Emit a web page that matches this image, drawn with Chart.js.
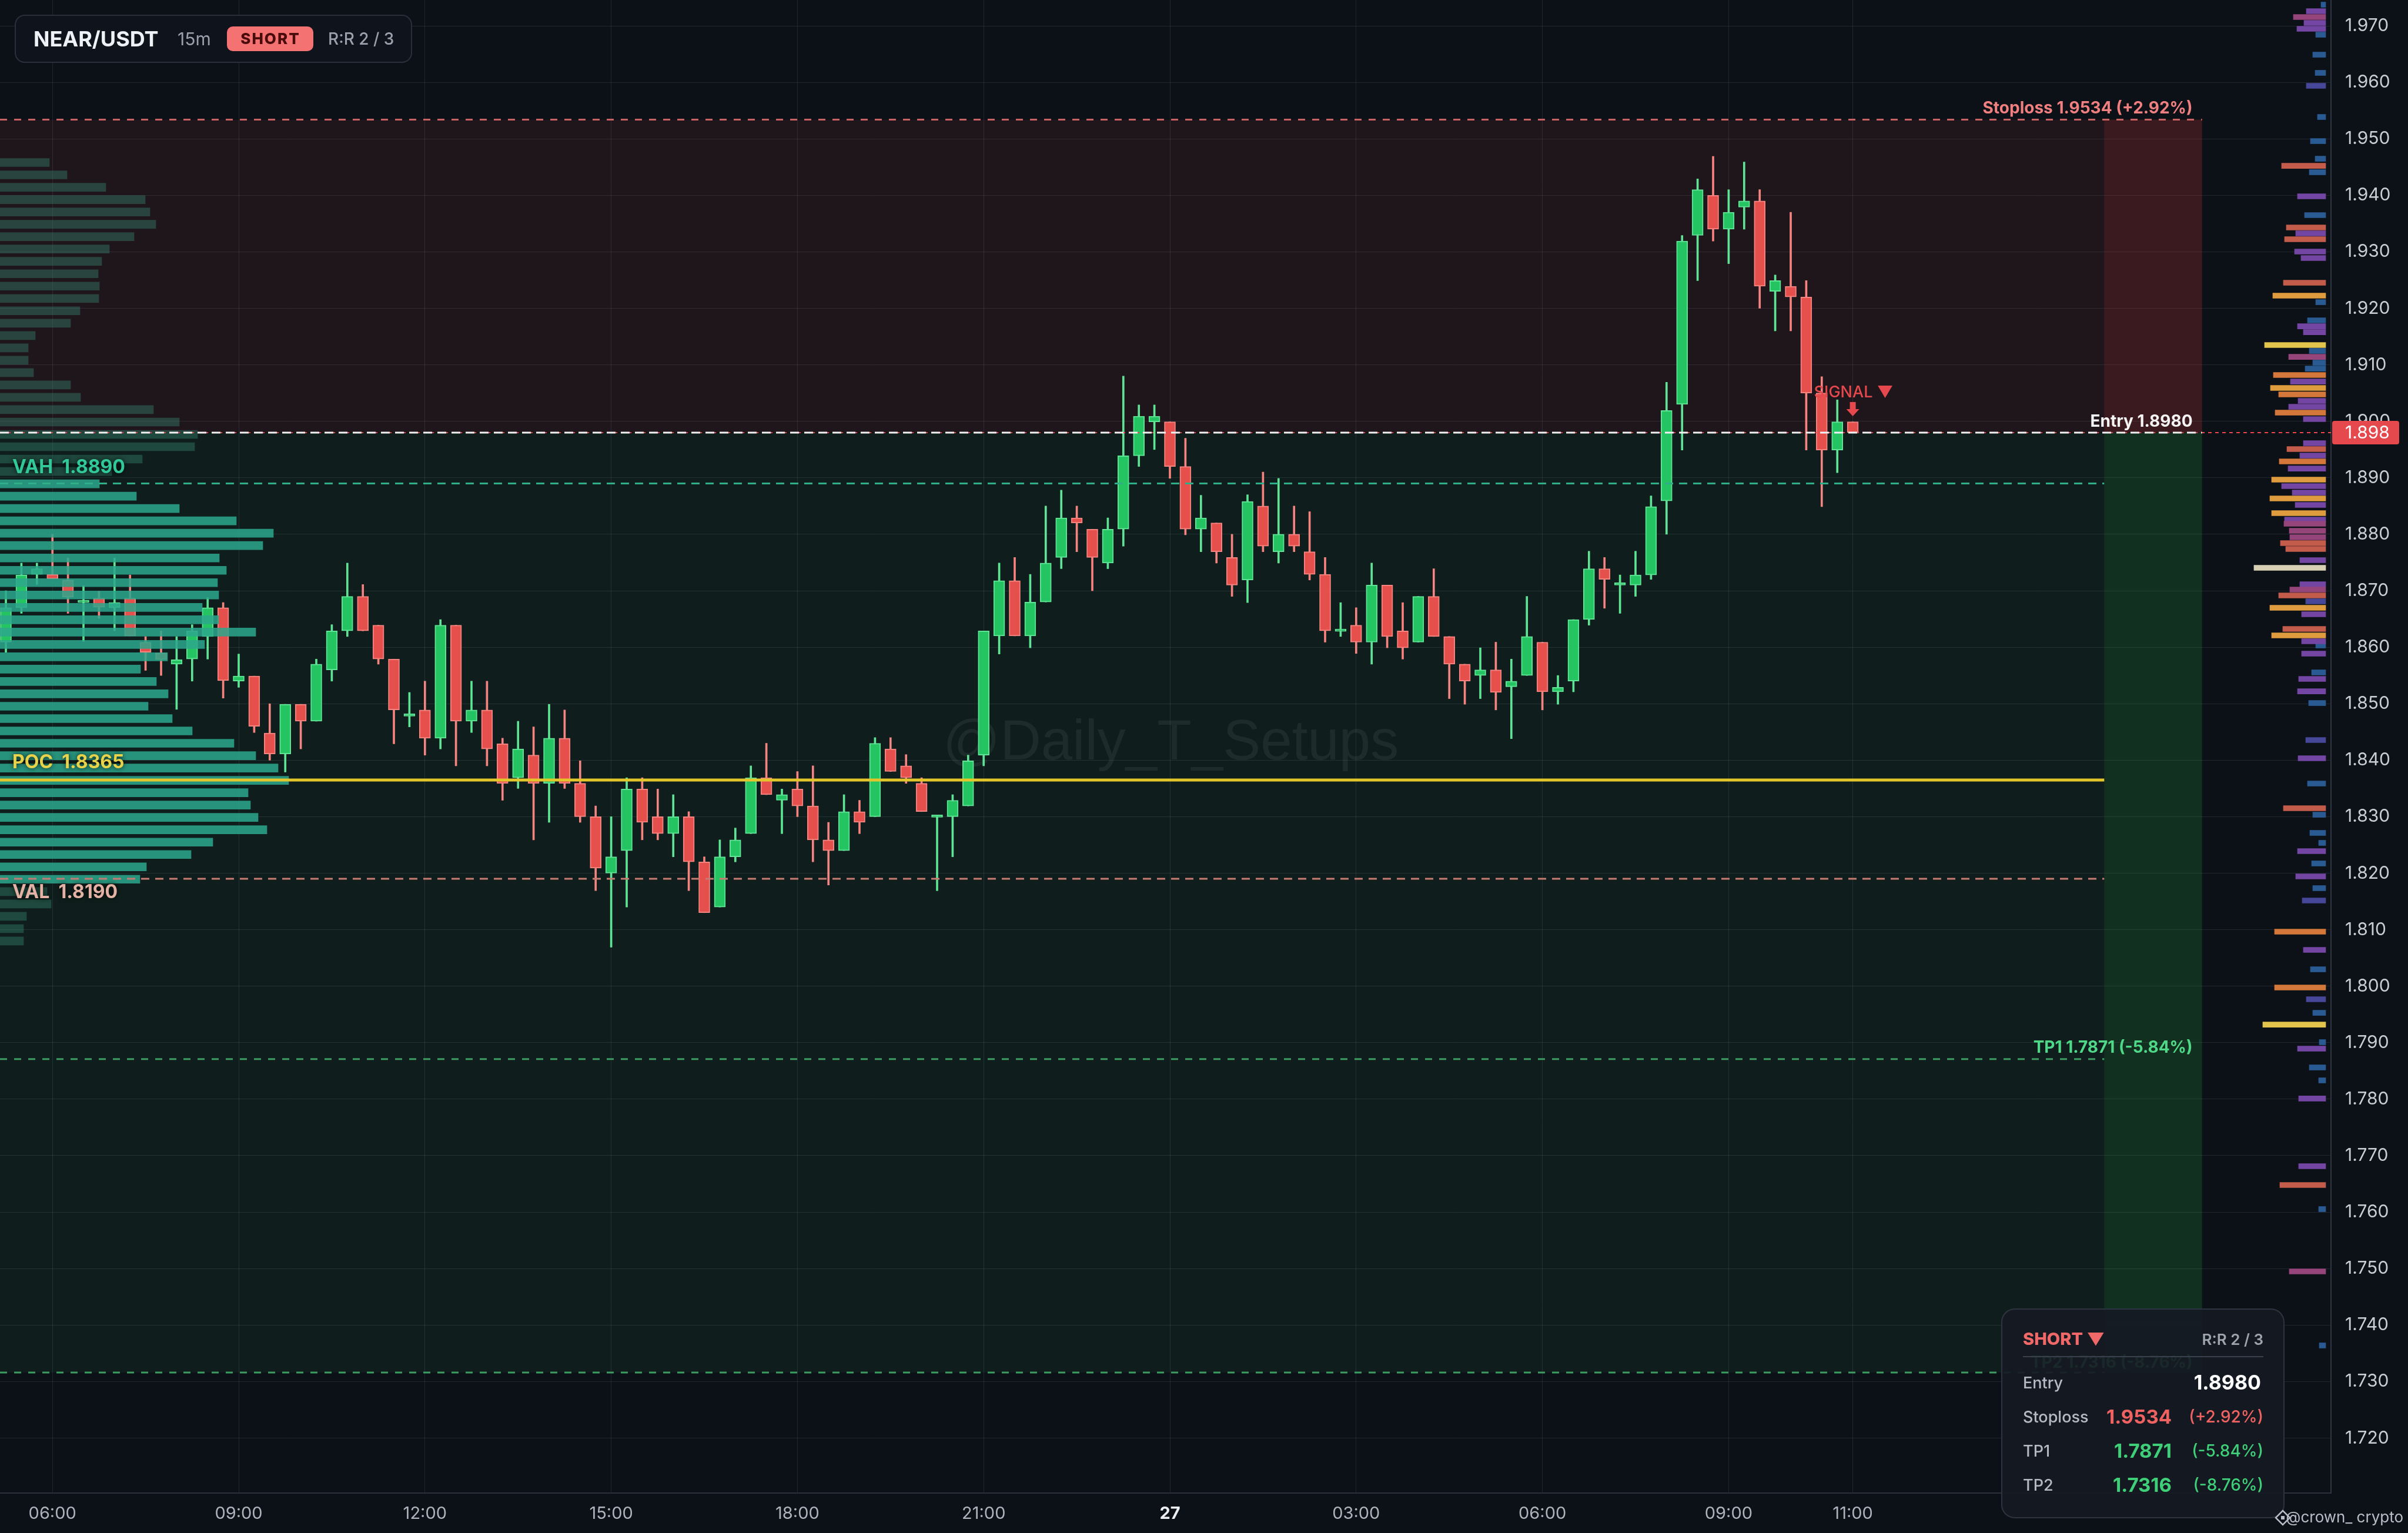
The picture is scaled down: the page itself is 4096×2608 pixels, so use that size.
<!DOCTYPE html>
<html>
<head>
<meta charset="utf-8">
<script src="https://cdn.jsdelivr.net/npm/chart.js@4.4.1/dist/chart.umd.min.js"></script>
<style>
  html, body { margin: 0; padding: 0; background: #0c1017; }
  #wrap { width: 4096px; height: 2608px; }
</style>
</head>
<body>
<div id="wrap"><canvas id="chart" width="4096" height="2608"></canvas></div>
<script>
// ---- time axis (15m candles, index 1 = 05:15) ----
const TICK_INDEX = [4, 16, 28, 40, 52, 64, 76, 88, 100, 112, 120];
const TICK_LABELS = ['06:00', '09:00', '12:00', '15:00', '18:00', '21:00', '27', '03:00', '06:00', '09:00', '11:00'];

// ---- candles ----
const OPEN = [
  1.8609, 1.8670, 1.8729, 1.8729, 1.8719, 1.8679, 1.8687, 1.8670, 1.8687, 1.8609,
  1.8590, 1.8570, 1.8579, 1.8619, 1.8670, 1.8540, 1.8549, 1.8448, 1.8411, 1.8499,
  1.8469, 1.8560, 1.8629, 1.8690, 1.8639, 1.8579, 1.8478, 1.8489, 1.8439, 1.8639,
  1.8469, 1.8489, 1.8429, 1.8369, 1.8409, 1.8359, 1.8439, 1.8359, 1.8300, 1.8200,
  1.8240, 1.8349, 1.8300, 1.8270, 1.8300, 1.8220, 1.8140, 1.8229, 1.8270, 1.8369,
  1.8329, 1.8349, 1.8319, 1.8259, 1.8240, 1.8309, 1.8300, 1.8420, 1.8390, 1.8359,
  1.8299, 1.8300, 1.8319, 1.8409, 1.8620, 1.8718, 1.8620, 1.8680, 1.8759, 1.8829,
  1.8809, 1.8749, 1.8809, 1.8939, 1.8999, 1.8999, 1.8920, 1.8809, 1.8820, 1.8759,
  1.8719, 1.8850, 1.8769, 1.8800, 1.8769, 1.8729, 1.8628, 1.8639, 1.8609, 1.8710,
  1.8629, 1.8609, 1.8690, 1.8619, 1.8570, 1.8550, 1.8560, 1.8530, 1.8550, 1.8609,
  1.8521, 1.8540, 1.8649, 1.8739, 1.8710, 1.8710, 1.8728, 1.8859, 1.9030, 1.9329,
  1.9400, 1.9340, 1.9379, 1.9390, 1.9230, 1.9239, 1.9220, 1.9050, 1.8949, 1.8999
];
const HIGH = [
  1.8700, 1.8749, 1.8749, 1.8800, 1.8758, 1.8709, 1.8699, 1.8758, 1.8728, 1.8619,
  1.8629, 1.8619, 1.8640, 1.8688, 1.8679, 1.8588, 1.8549, 1.8500, 1.8499, 1.8499,
  1.8579, 1.8640, 1.8749, 1.8711, 1.8639, 1.8579, 1.8520, 1.8540, 1.8649, 1.8639,
  1.8540, 1.8540, 1.8439, 1.8469, 1.8459, 1.8499, 1.8489, 1.8399, 1.8319, 1.8300,
  1.8369, 1.8369, 1.8349, 1.8339, 1.8309, 1.8229, 1.8259, 1.8280, 1.8390, 1.8430,
  1.8349, 1.8380, 1.8390, 1.8290, 1.8339, 1.8329, 1.8440, 1.8440, 1.8410, 1.8369,
  1.8303, 1.8339, 1.8409, 1.8629, 1.8749, 1.8759, 1.8729, 1.8850, 1.8878, 1.8850,
  1.8809, 1.8829, 1.9080, 1.9029, 1.9029, 1.8999, 1.8970, 1.8869, 1.8820, 1.8800,
  1.8870, 1.8910, 1.8899, 1.8850, 1.8840, 1.8759, 1.8679, 1.8670, 1.8749, 1.8710,
  1.8679, 1.8690, 1.8739, 1.8619, 1.8570, 1.8599, 1.8609, 1.8579, 1.8690, 1.8609,
  1.8550, 1.8649, 1.8770, 1.8759, 1.8728, 1.8770, 1.8868, 1.9069, 1.9329, 1.9429,
  1.9469, 1.9410, 1.9459, 1.9410, 1.9259, 1.9370, 1.9249, 1.9079, 1.9038, 1.8999
];
const LOW = [
  1.8591, 1.8660, 1.8711, 1.8721, 1.8660, 1.8610, 1.8651, 1.8629, 1.8620, 1.8559,
  1.8550, 1.8490, 1.8540, 1.8579, 1.8510, 1.8529, 1.8449, 1.8400, 1.8379, 1.8420,
  1.8469, 1.8540, 1.8619, 1.8629, 1.8570, 1.8429, 1.8459, 1.8409, 1.8420, 1.8390,
  1.8449, 1.8390, 1.8329, 1.8350, 1.8259, 1.8290, 1.8350, 1.8290, 1.8169, 1.8069,
  1.8140, 1.8259, 1.8259, 1.8229, 1.8169, 1.8130, 1.8140, 1.8220, 1.8270, 1.8339,
  1.8270, 1.8300, 1.8220, 1.8179, 1.8240, 1.8270, 1.8300, 1.8380, 1.8359, 1.8309,
  1.8169, 1.8229, 1.8319, 1.8390, 1.8588, 1.8620, 1.8599, 1.8680, 1.8739, 1.8769,
  1.8700, 1.8739, 1.8779, 1.8920, 1.8950, 1.8899, 1.8799, 1.8769, 1.8749, 1.8690,
  1.8679, 1.8769, 1.8749, 1.8769, 1.8719, 1.8609, 1.8619, 1.8589, 1.8570, 1.8599,
  1.8579, 1.8609, 1.8619, 1.8509, 1.8499, 1.8509, 1.8489, 1.8438, 1.8550, 1.8489,
  1.8499, 1.8521, 1.8639, 1.8669, 1.8660, 1.8690, 1.8720, 1.8800, 1.8949, 1.9249,
  1.9319, 1.9279, 1.9340, 1.9200, 1.9160, 1.9160, 1.8949, 1.8849, 1.8909, 1.8980
];
const CLOSE = [
  1.8670, 1.8728, 1.8739, 1.8721, 1.8689, 1.8681, 1.8671, 1.8679, 1.8620, 1.8591,
  1.8578, 1.8578, 1.8629, 1.8670, 1.8541, 1.8549, 1.8460, 1.8411, 1.8499, 1.8469,
  1.8570, 1.8629, 1.8690, 1.8629, 1.8579, 1.8489, 1.8480, 1.8439, 1.8639, 1.8469,
  1.8489, 1.8420, 1.8359, 1.8420, 1.8359, 1.8439, 1.8359, 1.8300, 1.8209, 1.8229,
  1.8349, 1.8290, 1.8270, 1.8300, 1.8220, 1.8130, 1.8229, 1.8259, 1.8369, 1.8339,
  1.8339, 1.8319, 1.8259, 1.8240, 1.8309, 1.8290, 1.8430, 1.8380, 1.8369, 1.8309,
  1.8301, 1.8329, 1.8399, 1.8629, 1.8718, 1.8620, 1.8680, 1.8749, 1.8829, 1.8820,
  1.8759, 1.8809, 1.8939, 1.9009, 1.9009, 1.8920, 1.8809, 1.8829, 1.8769, 1.8710,
  1.8858, 1.8779, 1.8800, 1.8779, 1.8729, 1.8629, 1.8630, 1.8609, 1.8710, 1.8619,
  1.8599, 1.8690, 1.8619, 1.8570, 1.8540, 1.8560, 1.8520, 1.8540, 1.8619, 1.8521,
  1.8529, 1.8649, 1.8739, 1.8720, 1.8712, 1.8728, 1.8849, 1.9019, 1.9319, 1.9410,
  1.9340, 1.9370, 1.9390, 1.9239, 1.9249, 1.9220, 1.9050, 1.8949, 1.8999, 1.8980
];

// ---- trade setup levels ----
const ENTRY = 1.8980;
const STOPLOSS = 1.9534;
const TP1 = 1.7871;
const TP2 = 1.7316;
const LAST_PRICE = 1.898;
const SL_PCT = '+2.92%';
const TP1_PCT = '-5.84%';
const TP2_PCT = '-8.76%';
const RR_TEXT = 'R:R 2 / 3';

// ---- session volume profile (left), bins from low to high ----
const VAH = 1.8890;
const POC = 1.8365;
const VAL = 1.8190;
const PROFILE_LOW = 1.8069;
const PROFILE_HIGH = 1.9469;
const PROFILE_VOL = [
  40, 40, 45, 87, 80, 238, 249, 325, 362, 454,
  439, 426, 422, 491, 473, 435, 398, 327, 293, 252,
  286, 266, 239, 285, 348, 435, 372, 344, 372, 370,
  385, 373, 447, 465, 402, 305, 232, 169, 190, 242,
  331, 336, 305, 261, 137, 120, 57, 48, 48, 60,
  120, 136, 168, 169, 167, 173, 186, 228, 265, 255,
  247, 180, 114, 84
];

// ---- right-edge volume by price, [price, volume] per group ----
const RP_ORANGE = [[1.90819, 89], [1.90476, 80], [1.90153, 86], [1.89289, 79], [1.80965, 87], [1.79976, 87]];
const RP_AMBER = [[1.92224, 90], [1.90590, 94], [1.88967, 92], [1.88634, 95], [1.88374, 92], [1.86698, 95], [1.86209, 92]];
const RP_YELLOW = [[1.91350, 104], [1.79320, 107]];
const RP_SALMON = [[1.94523, 75], [1.93431, 67], [1.93223, 70], [1.92453, 72], [1.89508, 66], [1.87843, 77],
  [1.87739, 68], [1.86917, 80], [1.86324, 73], [1.83150, 72], [1.76480, 78]];
const RP_MAUVE = [[1.97156, 55], [1.91141, 63], [1.88186, 71], [1.88061, 62], [1.87947, 61], [1.87021, 61], [1.74950, 62]];
const RP_PURPLE = [[1.97260, 33], [1.97052, 37], [1.96948, 49], [1.93982, 48], [1.93327, 51], [1.93004, 53],
  [1.92890, 42], [1.91682, 48], [1.91578, 38], [1.90704, 60], [1.90361, 47], [1.90257, 63], [1.90039, 38],
  [1.89612, 38], [1.89393, 44], [1.89164, 64], [1.88852, 75], [1.88738, 57], [1.88519, 52], [1.88259, 70],
  [1.87541, 44], [1.87114, 44], [1.86584, 41], [1.86105, 41], [1.85887, 41], [1.85439, 46], [1.85220, 48],
  [1.84034, 47], [1.82390, 48], [1.81943, 51], [1.80642, 38], [1.78894, 48], [1.78010, 46], [1.76813, 46]];
const RP_INDIGO = [[1.95939, 33], [1.86813, 34], [1.84357, 34], [1.81516, 40], [1.79768, 33]];
const RP_BLUE = [[1.97375, 8], [1.96844, 17], [1.96490, 22], [1.96168, 18], [1.95387, 14], [1.94960, 26],
  [1.94648, 18], [1.94409, 28], [1.93649, 36], [1.92109, 17], [1.91787, 31], [1.91246, 28], [1.91037, 22],
  [1.90933, 35], [1.86032, 17], [1.85554, 24], [1.85012, 29], [1.83587, 31], [1.83035, 22], [1.82713, 27],
  [1.82536, 12], [1.82172, 24], [1.81735, 22], [1.80298, 26], [1.79528, 22], [1.79008, 11], [1.78561, 28],
  [1.78332, 12], [1.76053, 12], [1.73639, 11]];
const RP_CREAM = [[1.87406, 122]];

// ---- view window ----
const X_MIN = 0.621, X_MAX = 150.81;
const Y_MIN = 1.71027, Y_MAX = 1.97458;
const BOX_START = 136.2, ZONE_END = 142.5;

const GREEN = '#25c462', GREEN_EDGE = '#5fe394';
const RED = '#e5504c', RED_EDGE = '#f58480';
const isUp = OPEN.map((o, i) => CLOSE[i] >= o);

function levelLine(price, x1, color, width, dash) {
  return {
    type: 'line', data: [{x: X_MIN, y: price}, {x: x1, y: price}],
    borderColor: color, borderWidth: width, borderDash: dash,
    pointRadius: 0, fill: false, order: 1, xAxisID: 'x', yAxisID: 'y'
  };
}

function sideProfile(rows, color) {
  return {
    type: 'bar', indexAxis: 'y', xAxisID: 'xr', yAxisID: 'y',
    data: rows.map(([p, v]) => ({y: p, x: [0, v]})),
    backgroundColor: color, barThickness: 9, grouped: false, order: 2
  };
}

const binStep = (PROFILE_HIGH - PROFILE_LOW) / PROFILE_VOL.length;
const binPrice = PROFILE_VOL.map((_, i) => PROFILE_LOW + (i + 0.5) * binStep);

const datasets = [
  levelLine(ENTRY, ZONE_END, '#f1f1f1', 3, [15, 9]),
  levelLine(LAST_PRICE, X_MAX, '#e5484d', 2, [6, 6]),
  levelLine(STOPLOSS, ZONE_END, '#c96262', 3, [12, 12]),
  levelLine(VAH, BOX_START, '#2fae8a', 3, [14, 10]),
  levelLine(POC, BOX_START, '#e3c52c', 5, []),
  levelLine(VAL, BOX_START, '#c87b72', 3, [14, 10]),
  levelLine(TP1, BOX_START, '#3c9c62', 3, [12, 12]),
  levelLine(TP2, BOX_START, '#3c9c62', 3, [12, 12]),
  {
    type: 'bar', indexAxis: 'y', xAxisID: 'xl', yAxisID: 'y',
    data: PROFILE_VOL.map((v, i) => ({y: binPrice[i], x: [0, v]})),
    backgroundColor: binPrice.map(p => (p >= VAL - 0.0005 && p <= VAH + 0.0005) ? 'rgba(44,166,140,0.86)' : 'rgba(62,150,126,0.36)'),
    barThickness: 14, grouped: false, order: 2
  },
  sideProfile(RP_CREAM, '#d8d0b4'),
  sideProfile(RP_YELLOW, '#e2c44c'),
  sideProfile(RP_AMBER, '#df9c3e'),
  sideProfile(RP_ORANGE, '#d4773a'),
  sideProfile(RP_SALMON, '#c35c4a'),
  sideProfile(RP_MAUVE, '#96457a'),
  sideProfile(RP_PURPLE, '#7446a4'),
  sideProfile(RP_INDIGO, '#47479a'),
  sideProfile(RP_BLUE, '#2a5a92'),
  {
    type: 'bar', xAxisID: 'x', yAxisID: 'y',
    data: OPEN.map((o, i) => ({x: i + 1, y: [o, CLOSE[i]]})),
    backgroundColor: isUp.map(u => u ? GREEN : RED),
    borderColor: isUp.map(u => u ? GREEN_EDGE : RED_EDGE),
    borderWidth: 2, borderSkipped: false, barThickness: 19, minBarLength: 4,
    grouped: false, order: 3
  },
  {
    type: 'bar', xAxisID: 'x', yAxisID: 'y',
    data: OPEN.map((o, i) => ({x: i + 1, y: [LOW[i], HIGH[i]]})),
    backgroundColor: isUp.map(u => u ? GREEN_EDGE : RED_EDGE),
    borderWidth: 0, barThickness: 3, grouped: false, order: 4
  }
];

function text(ctx, str, x, y, font, color, align) {
  ctx.font = font;
  ctx.fillStyle = color;
  ctx.textAlign = align || 'left';
  ctx.textBaseline = 'middle';
  ctx.fillText(str, x, y);
}

const decor = {
  id: 'decor',
  beforeDraw(chart) {
    const {ctx, chartArea: a, scales: {x, y}} = chart;
    const x0 = a.left, xz = x.getPixelForValue(ZONE_END), xb = x.getPixelForValue(BOX_START);
    const ys = y.getPixelForValue(STOPLOSS), ye = y.getPixelForValue(ENTRY), yt = y.getPixelForValue(TP2);
    ctx.save();
    ctx.fillStyle = '#1f161c'; ctx.fillRect(x0, ys, xz - x0, ye - ys);
    ctx.fillStyle = '#0f1e1c'; ctx.fillRect(x0, ye, xz - x0, yt - ye);
    ctx.fillStyle = '#3a1a1f'; ctx.fillRect(xb, ys, xz - xb, ye - ys);
    ctx.fillStyle = '#12301f'; ctx.fillRect(xb, ye, xz - xb, yt - ye);
    ctx.restore();
  },
  beforeDatasetsDraw(chart) {
    const {ctx} = chart;
    ctx.save();
    ctx.font = '96px "Liberation Sans", Arial, sans-serif';
    ctx.fillStyle = 'rgba(220,230,235,0.065)';
    ctx.textAlign = 'left';
    ctx.textBaseline = 'alphabetic';
    ctx.fillText('@Daily_T_Setups', 1604, 1292);
    ctx.restore();
  },
  afterDatasetsDraw(chart) {
    const {ctx, scales: {x, y}} = chart;
    ctx.save();
    ctx.shadowColor = 'rgba(0,0,0,0.85)';
    ctx.shadowBlur = 8;
    text(ctx, 'VAH  ' + VAH.toFixed(4), 21, y.getPixelForValue(VAH) - 27, '700 32px Inter', '#31c99a');
    text(ctx, 'POC  ' + POC.toFixed(4), 21, y.getPixelForValue(POC) - 30, '700 32px Inter', '#e8d24a');
    text(ctx, 'VAL  ' + VAL.toFixed(4), 21, y.getPixelForValue(VAL) + 23, '700 32px Inter', '#e3b2a5');
    ctx.shadowBlur = 0;
    const xr = x.getPixelForValue(ZONE_END) - 16;
    text(ctx, 'Stoploss ' + STOPLOSS.toFixed(4) + ' (' + SL_PCT + ')', xr, y.getPixelForValue(STOPLOSS) - 19, '700 28px Inter', '#f07f7f', 'right');
    text(ctx, 'Entry ' + ENTRY.toFixed(4), xr, y.getPixelForValue(ENTRY) - 18, '700 28px Inter', '#f4f4f4', 'right');
    text(ctx, 'TP1 ' + TP1.toFixed(4) + ' (' + TP1_PCT + ')', xr, y.getPixelForValue(TP1) - 19, '700 28px Inter', '#4fd887', 'right');
    text(ctx, 'TP2 ' + TP2.toFixed(4) + ' (' + TP2_PCT + ')', xr, y.getPixelForValue(TP2) - 16, '700 28px Inter', '#4fd887', 'right');
    // signal marker on the last candle
    const xs = x.getPixelForValue(OPEN.length);
    const yEntry = y.getPixelForValue(ENTRY);
    text(ctx, 'SIGNAL ▼', xs - 66, yEntry - 68, '500 27px Inter', '#e5484d');
    ctx.fillStyle = '#e5484d';
    ctx.fillRect(xs - 5, yEntry - 52, 10, 13);
    ctx.beginPath();
    ctx.moveTo(xs - 11, yEntry - 40);
    ctx.lineTo(xs + 11, yEntry - 40);
    ctx.lineTo(xs, yEntry - 28);
    ctx.closePath();
    ctx.fill();
    ctx.restore();
  },
  afterDraw(chart) {
    const {ctx, chartArea: a, scales: {y}} = chart;
    ctx.save();
    // last price tag
    const yp = y.getPixelForValue(LAST_PRICE);
    ctx.fillStyle = '#e5484d';
    ctx.beginPath(); ctx.roundRect(a.right + 2, yp - 20, 114, 40, 4); ctx.fill();
    text(ctx, LAST_PRICE.toFixed(3), a.right + 24, yp + 1, '30px Inter', '#ffffff');

    // symbol legend
    ctx.beginPath(); ctx.roundRect(26, 26, 674, 80, 16);
    ctx.fillStyle = '#0f131b'; ctx.fill();
    ctx.strokeStyle = '#2a303b'; ctx.lineWidth = 2; ctx.stroke();
    text(ctx, 'NEAR/USDT', 57, 68, '700 36px Inter', '#eef1f5');
    text(ctx, '15m', 302, 68, '30px Inter', '#9aa0ab');
    ctx.beginPath(); ctx.roundRect(386, 45, 147, 42, 10);
    ctx.fillStyle = '#f47272'; ctx.fill();
    ctx.letterSpacing = '2px';
    text(ctx, 'SHORT', 460, 67, '800 26px Inter', '#4a0b0b', 'center');
    ctx.letterSpacing = '0px';
    text(ctx, RR_TEXT, 558, 68, '500 28px Inter', '#9aa0ab');

    // trade panel
    ctx.beginPath(); ctx.roundRect(3405, 2227, 480, 355, 22);
    ctx.fillStyle = 'rgba(21,26,34,0.93)'; ctx.fill();
    ctx.strokeStyle = '#2d343f'; ctx.lineWidth = 2; ctx.stroke();
    text(ctx, 'SHORT ▼', 3441, 2279, '800 29px Inter', '#f06868');
    text(ctx, RR_TEXT, 3850, 2280, '600 26px Inter', '#9ea4ae', 'right');
    ctx.fillStyle = '#3a414d'; ctx.fillRect(3441, 2307, 409, 2);
    const rows = [
      ['Entry', ENTRY, null, '#ffffff', 2354],
      ['Stoploss', STOPLOSS, SL_PCT, '#ef6262', 2412],
      ['TP1', TP1, TP1_PCT, '#3fcf78', 2470],
      ['TP2', TP2, TP2_PCT, '#3fcf78', 2528]
    ];
    rows.forEach(([label, val, pct, col, yy]) => {
      text(ctx, label, 3441, yy, '500 27px Inter', '#b4bac4');
      if (pct === null) {
        text(ctx, val.toFixed(4), 3846, yy, '700 34px Inter', col, 'right');
      } else {
        text(ctx, val.toFixed(4), 3694, yy, '700 33px Inter', col, 'right');
        text(ctx, '(' + pct + ')', 3850, yy, '500 28px Inter', col, 'right');
      }
    });

    // credit
    ctx.strokeStyle = '#b8bec8'; ctx.lineWidth = 2.5;
    ctx.beginPath();
    ctx.moveTo(3883, 2570); ctx.lineTo(3895, 2582); ctx.lineTo(3883, 2594); ctx.lineTo(3871, 2582); ctx.closePath();
    ctx.stroke();
    ctx.fillStyle = '#b8bec8'; ctx.fillRect(3880, 2579, 6, 6);
    text(ctx, '@crown_ crypto', 4088, 2582, '26px Inter', '#b8bec8', 'right');
    ctx.restore();
  }
};

Chart.defaults.font.family = 'Inter, "DejaVu Sans", sans-serif';

const GRID = 'rgba(150,160,180,0.15)';

new Chart(document.getElementById('chart'), {
  type: 'bar',
  data: { datasets },
  options: {
    responsive: false,
    devicePixelRatio: 1,
    animation: false,
    events: [],
    layout: { padding: 0, autoPadding: false },
    plugins: { legend: { display: false }, tooltip: { enabled: false } },
    scales: {
      x: {
        type: 'linear', min: X_MIN, max: X_MAX, offset: false,
        grid: { color: GRID, offset: false, drawTicks: false },
        border: { display: true, color: '#2a303a', width: 2 },
        afterBuildTicks: s => { s.ticks = TICK_INDEX.map(v => ({ value: v })); },
        afterFit: s => { s.height = 68; s.paddingLeft = 0; s.paddingRight = 0; },
        ticks: {
          autoSkip: false, maxRotation: 0, padding: 18,
          callback: v => TICK_LABELS[TICK_INDEX.indexOf(v)],
          color: c => (c.tick && c.tick.value === 76) ? '#eceef2' : '#aeb3bd',
          font: c => ({ size: 29, weight: (c.tick && c.tick.value === 76) ? 'bold' : 'normal' })
        }
      },
      xl: { type: 'linear', display: false, min: 0, max: 3965, offset: false, grid: { offset: false } },
      xr: { type: 'linear', display: false, reverse: true, min: -9, max: 3956, offset: false, grid: { offset: false } },
      y: {
        // the horizontal profile bars make this the index axis of those datasets,
        // so the bar default offset has to be switched off explicitly
        type: 'linear', position: 'right', min: Y_MIN, max: Y_MAX, offset: false,
        grid: { color: GRID, offset: false, drawTicks: false },
        border: { display: true, color: '#2f3541', width: 2 },
        afterFit: s => { s.width = 131; s.paddingTop = 0; s.paddingBottom = 0; },
        ticks: {
          stepSize: 0.01, includeBounds: false, padding: 24,
          color: '#c9cdd4', font: { size: 30 },
          callback: v => Number(v).toFixed(3)
        }
      }
    }
  },
  plugins: [decor]
});
</script>
</body>
</html>
